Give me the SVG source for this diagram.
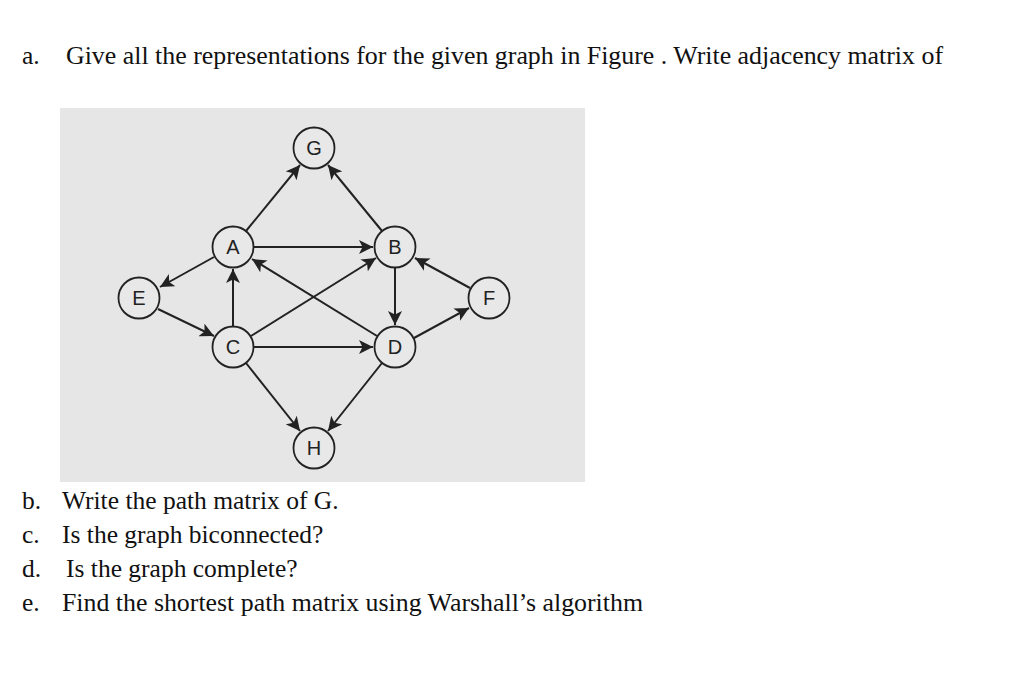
<svg xmlns="http://www.w3.org/2000/svg" width="1018" height="676" viewBox="0 0 1018 676">
<style>
.t{font-family:"Liberation Serif",serif;font-size:25.5px;fill:#111}
.n circle{fill:#e8e8e8;stroke:#222;stroke-width:1.8}
.n text{font-family:"Liberation Sans",sans-serif;font-size:20px;fill:#222;text-anchor:middle}
#edges line{stroke:#222;stroke-width:2;marker-end:url(#ah)}
</style>
<defs><marker id="ah" viewBox="0 0 10 10" refX="10" refY="5" markerWidth="14" markerHeight="14" markerUnits="userSpaceOnUse" orient="auto"><path d="M0,0L10,5L0,10L2.5,5z" fill="#222"/></marker></defs>
<rect width="1018" height="676" fill="#fff"/>
<text class="t" x="22" y="64">a.</text>
<text class="t" x="66" y="64" textLength="877" lengthAdjust="spacingAndGlyphs">Give all the representations for the given graph in Figure . Write adjacency matrix of</text>
<rect x="60" y="108" width="525" height="374" fill="#e6e6e6"/>
<g id="edges">
<line x1="246" y1="231" x2="300" y2="165"/>
<line x1="382" y1="231" x2="328" y2="165"/>
<line x1="254" y1="247" x2="373" y2="247"/>
<line x1="214" y1="257" x2="160" y2="287"/>
<line x1="158" y1="309" x2="214" y2="336"/>
<line x1="233" y1="326" x2="233" y2="269"/>
<line x1="251" y1="336" x2="376" y2="258"/>
<line x1="377" y1="336" x2="252" y2="259"/>
<line x1="395" y1="268" x2="395" y2="325"/>
<line x1="470" y1="288" x2="415" y2="258"/>
<line x1="414" y1="338" x2="469" y2="308"/>
<line x1="254" y1="347" x2="373" y2="347"/>
<line x1="246" y1="363" x2="300" y2="431"/>
<line x1="382" y1="363" x2="328" y2="431"/>
</g>
<g id="G" class="n"><circle cx="314" cy="148" r="20.5"/><text x="314" y="155">G</text></g>
<g id="A" class="n"><circle cx="233" cy="247" r="20.5"/><text x="233" y="254">A</text></g>
<g id="B" class="n"><circle cx="395" cy="247" r="20.5"/><text x="395" y="254">B</text></g>
<g id="E" class="n"><circle cx="139" cy="298" r="20.5"/><text x="139" y="305">E</text></g>
<g id="F" class="n"><circle cx="489" cy="298" r="20.5"/><text x="489" y="305">F</text></g>
<g id="C" class="n"><circle cx="233" cy="347" r="20.5"/><text x="233" y="354">C</text></g>
<g id="D" class="n"><circle cx="395" cy="347" r="20.5"/><text x="395" y="354">D</text></g>
<g id="H" class="n"><circle cx="314" cy="448" r="20.5"/><text x="314" y="455">H</text></g>
<text class="t" x="22" y="509">b.</text><text class="t" x="62" y="509">Write the path matrix of G.</text>
<text class="t" x="22" y="543">c.</text><text class="t" x="62" y="543">Is the graph biconnected?</text>
<text class="t" x="22" y="577">d.</text><text class="t" x="66" y="577">Is the graph complete?</text>
<text class="t" x="22" y="611">e.</text><text class="t" x="62" y="611" textLength="581" lengthAdjust="spacingAndGlyphs">Find the shortest path matrix using Warshall’s algorithm</text>
</svg>
